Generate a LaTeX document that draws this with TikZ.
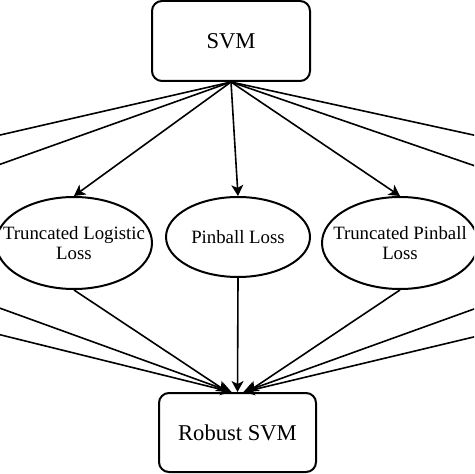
\documentclass[tikz,border=0pt]{standalone}
\usepackage{fontspec}
\setmainfont{Liberation Serif}
\usetikzlibrary{shapes.geometric,arrows.meta}
\tikzset{
  box/.style={draw, rounded corners=5pt, line width=1pt, minimum width=79pt, minimum height=40pt, inner sep=0pt, font=\fontsize{11.3}{13}\selectfont},
  loss/.style={draw, ellipse, line width=1pt, inner xsep=-9pt, inner ysep=0pt, align=center, font=\fontsize{9.4}{9.8}\selectfont},
  arr/.style={-{Stealth[length=5.5pt,width=6pt,inset=1.5pt]}, line width=0.8pt},
}
\begin{document}
\begin{tikzpicture}[x=0.5pt,y=-0.5pt]
\useasboundingbox (0,0) rectangle (474,474);
\clip (0,0) rectangle (474,474);
% boxes and losses
\node[box] (svm) at (231,41) {SVM};
\node[loss, minimum width=78pt, minimum height=46pt] (tll) at (74,243) {Truncated Logistic\\Loss};
\node[loss, minimum width=72pt, minimum height=40pt] (pbl) at (238,237) {Pinball Loss};
\node[loss, minimum width=78pt, minimum height=46pt] (tpl) at (400,243) {Truncated Pinball\\Loss};
\node[box, minimum width=78.5pt, minimum height=39.5pt] (rsvm) at (237.5,432.5) {Robust SVM};
% ends outside the picture
\coordinate (outl1) at (-100,158);
\coordinate (outl2) at (-100,200);
\coordinate (outr1) at (574,157);
\coordinate (outr2) at (574,200);
\coordinate (outl3) at (-100,272);
\coordinate (outl4) at (-100,310);
\coordinate (outr3) at (574,273);
\coordinate (outr4) at (574,313);
% from SVM
\draw[arr] (svm.south) -- (outl1);
\draw[arr] (svm.south) -- (outl2);
\draw[arr] (svm.south) -- (tll.north);
\draw[arr] (svm.south) -- (pbl.north);
\draw[arr] (svm.south) -- (tpl.north);
\draw[arr] (svm.south) -- (outr2);
\draw[arr] (svm.south) -- (outr1);
% to Robust SVM
\draw[arr] (outl4) -- ([xshift=-3pt]rsvm.north);
\draw[arr] (outl3) -- ([xshift=-3pt]rsvm.north);
\draw[arr] (tll.south) -- ([xshift=-5pt]rsvm.north);
\draw[arr] (pbl.south) -- (rsvm.north);
\draw[arr] (tpl.south) -- ([xshift=5pt]rsvm.north);
\draw[arr] (outr3) -- ([xshift=3pt]rsvm.north);
\draw[arr] (outr4) -- ([xshift=3pt]rsvm.north);
\end{tikzpicture}
\end{document}
